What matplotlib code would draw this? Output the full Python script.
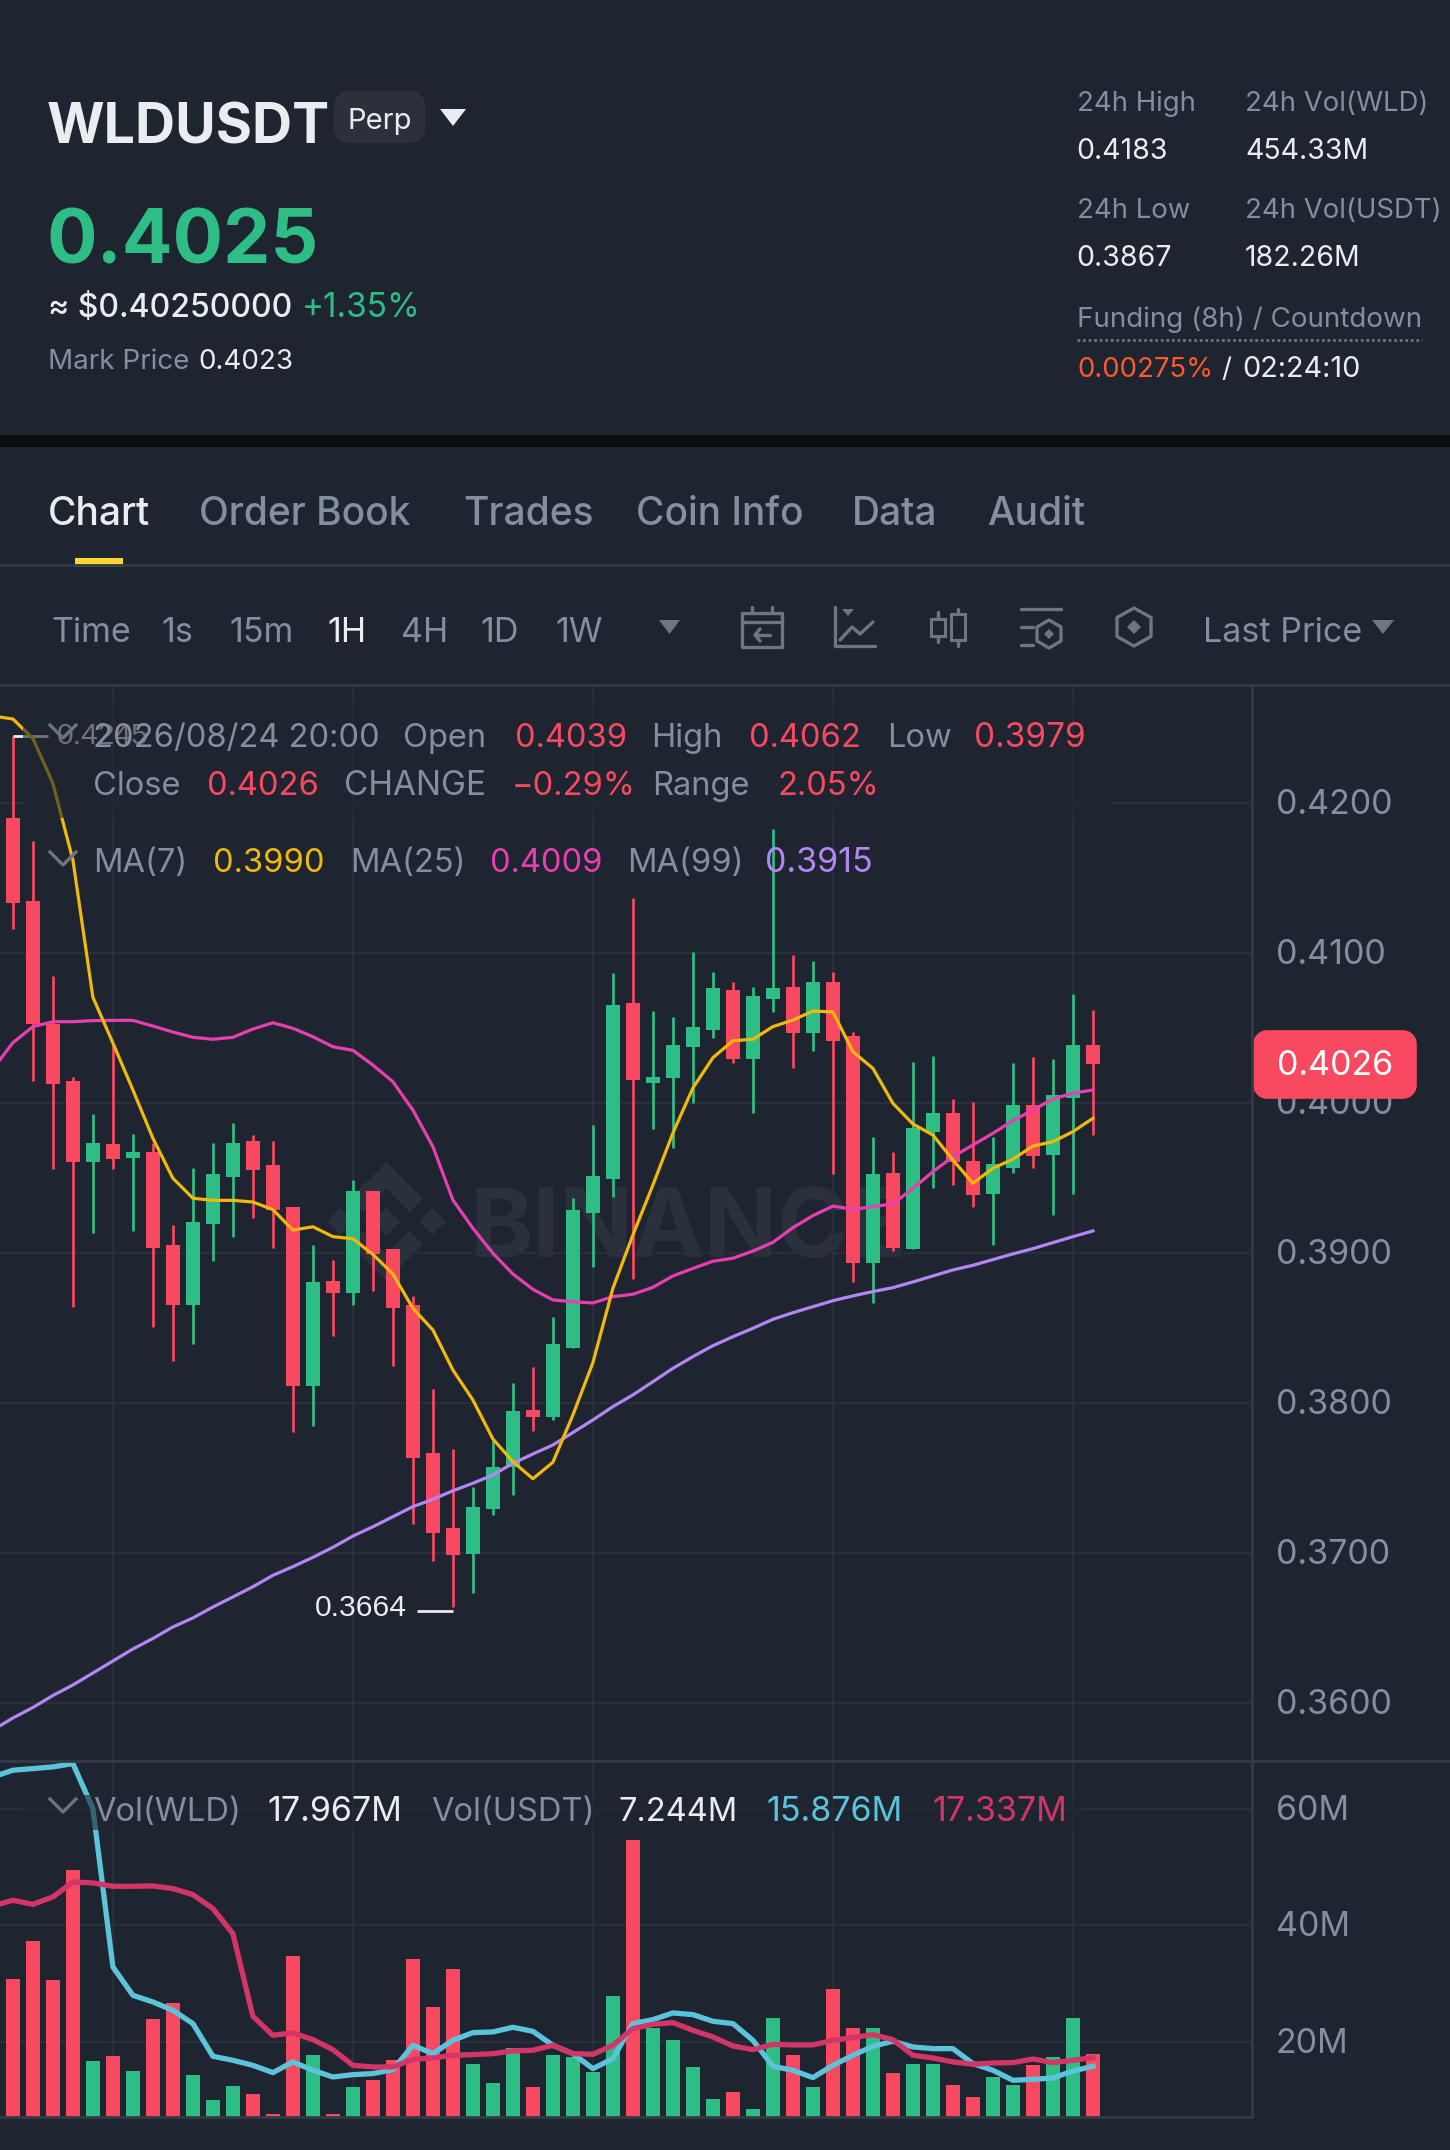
"""Fig: WLDUSDT perp 1H candles with MA lines and volume pane (phone screenshot look)."""

import matplotlib

matplotlib.use("Agg")
import matplotlib.pyplot as plt
import numpy as np
from matplotlib.patches import FancyBboxPatch, Polygon, Rectangle
from matplotlib.transforms import ScaledTranslation

plt.rcParams["font.family"] = ["Inter", "DejaVu Sans"]

# candles, index 0 is the left most one
opens = [.4190, .41345, .40529, .40144, .39607, .39727, .39635, .39675, .39053, .38655,
         .39195, .39507, .39747, .39587, .39305, .38115, .38813, .38733, .39413, .39025,
         .38653, .37665, .37165, .36993, .37293, .37573, .37953, .37905, .38365, .39267,
         .39495, .40665, .40135, .40167, .40375, .40487, .40753, .40295, .40695, .40773,
         .40465, .40805, .40445, .38935, .39533, .39027, .39805, .39933, .39613, .39393,
         .39565, .39985, .39653, .40035, .4039]
highs = [.4245, .41747, .40847, .40175, .39927, .40387, .39793, .39733, .39187, .39567,
         .39735, .39867, .39787, .39747, .39305, .39053, .38953, .39487, .39413, .39025,
         .38713, .38093, .37693, .37442, .37753, .38133, .38242, .38572, .39365, .39853,
         .40865, .41365, .40613, .40573, .41005, .40875, .40805, .40773, .41825, .40985,
         .40945, .40873, .40475, .39773, .39673, .40273, .40313, .40025, .40005, .39773,
         .40265, .40305, .40293, .40725, .4062]
lows = [.4116, .40149, .3956, .3864, .39135, .39558, .39147, .38507, .38282, .38395,
        .38947, .39107, .39235, .39035, .37807, .37847, .38447, .38655, .38745, .38245,
        .37195, .36945, .3664, .36733, .37253, .37385, .37815, .37887, .38365, .38905,
        .39375, .38825, .39829, .39698, .39998, .40435, .40267, .39935, .40609, .40235,
        .40347, .39529, .38805, .38665, .39015, .39027, .39435, .39455, .39305, .39055,
        .39535, .39567, .39253, .39393, .3979]
closes = [.4133, .40529, .40127, .39607, .39735, .39627, .39673, .39035, .38655, .39205,
          .39525, .39735, .39555, .39287, .38115, .38805, .38733, .39413, .38995, .38635,
          .37635, .37135, .36985, .37305, .37573, .37945, .37905, .38393, .39285, .39513,
          .40653, .40155, .40173, .40385, .40505, .40765, .40295, .40713, .40765, .40465,
          .40805, .40415, .38935, .39525, .39035, .39833, .39933, .39605, .39385, .39593,
          .39985, .39645, .40053, .40385, .4026]

# moving averages start one candle further left, off the screen
ma7 = [.4258, .4256, .42431, .42131, .4162, .40705, .404, .40087, .39765, .39498, .39365,
       .39351, .39351, .3934, .39289, .39153, .39175, .39109, .39095, .38991, .3886,
       .38631, .38487, .3822, .3802, .3776, .37609, .37495, .37605, .3792, .38269,
       .38765, .3912, .39453, .398, .401, .40302, .40415, .40425, .40509, .40553,
       .40613, .40607, .40342, .40231, .39998, .3986, .39787, .3962, .39465, .39565,
       .39625, .39713, .39742, .39809, .39898]
ma25 = [.40227, .40402, .40509, .40542, .40542, .40549, .40551, .40551, .40513, .40473, .40438,
        .40425, .40438, .40493, .40535, .40498, .40442, .40375, .40351, .40253, .40142,
        .39953, .39709, .39353, .39165, .38998, .3886, .38758, .38687, .38675, .38667,
        .38709, .38725, .38771, .38847, .38897, .38945, .38965, .39013, .39071, .39169,
        .39249, .39313, .39291, .39309, .39327, .39431, .39542, .39642, .3972, .39798,
        .39882, .39953, .40027, .40065, .40087]
ma99 = [.3582, .3590, .3597, .3605, .3612, .3620, .3628, .3636, .3643, .36507, .36567,
        .3664, .36707, .36775, .36851, .36909, .36971, .37038, .37113, .37175, .37242,
        .37309, .37358, .37415, .37465, .3752, .37598, .3766, .3772, .37803, .37887,
        .37976, .38054, .38142, .38231, .38309, .38382, .38442, .38498, .38558, .38602,
        .38642, .38682, .38714, .38743, .38769, .38807, .38847, .38887, .38918, .38956,
        .38994, .39029, .39069, .39109, .39147]

# volume pane, millions of WLD
volumes = [30.81, 37.27, 30.70, 49.44, 16.81, 17.67, 14.98, 23.95, 26.76, 14.30,
           10.01, 12.47, 11.04, 7.73, 34.75, 17.78, 7.73, 12.24, 13.56, 16.99,
           34.24, 26.07, 32.59, 16.24, 12.98, 18.93, 12.24, 17.73, 17.44, 14.87,
           27.84, 54.64, 22.36, 20.30, 15.79, 10.30, 11.50, 8.52, 24.12, 17.73,
           12.36, 29.04, 22.36, 22.41, 14.76, 16.24, 16.24, 12.58, 10.53, 14.07,
           12.58, 16.07, 17.50, 24.19, 17.97]
vol_ma_fast = [65.44, 66.59, 66.87, 67.16, 67.73, 60.01, 32.87, 28.01, 26.87, 25.44, 23.16,
               17.56, 16.87, 16.01, 14.76, 16.59, 15.16, 14.01, 14.41, 14.59, 15.27,
               19.44, 18.01, 20.30, 21.61, 21.73, 22.53, 21.84, 19.44, 18.01, 15.44,
               17.16, 23.16, 23.84, 24.99, 24.70, 23.56, 23.16, 20.30, 15.84, 15.16,
               13.90, 16.01, 17.73, 19.27, 20.13, 19.16, 18.87, 18.87, 16.30, 15.16,
               13.44, 13.61, 13.84, 15.04, 15.84]
vol_ma_slow = [43.33, 44.30, 43.61, 44.87, 47.44, 47.27, 46.70, 46.70, 46.76, 46.30, 45.27,
               42.87, 38.59, 24.41, 21.16, 21.56, 20.41, 18.70, 16.01, 15.73, 15.73,
               17.04, 17.27, 17.73, 17.84, 18.01, 18.47, 18.59, 19.44, 18.01, 17.90,
               19.44, 22.30, 23.04, 23.33, 22.01, 20.87, 19.33, 18.70, 19.61, 19.50,
               19.50, 20.30, 20.76, 21.27, 20.41, 17.73, 17.27, 16.59, 16.19, 16.41,
               16.47, 17.10, 16.47, 16.87, 17.33]

price_ticks = [0.36, 0.37, 0.38, 0.39, 0.40, 0.41, 0.42]
vol_ticks = [20, 40, 60]
vol_tick_labels = ["20M", "40M", "60M"]
grid_candles = [5, 17, 29, 41, 53]

BG = "#1f2530"
GRID = "#292f3a"
LINE = "#333b47"
GREY = "#848e9c"
WHITE = "#eaecef"
GREEN = "#2ebd85"
RED = "#f84960"
YELLOW = "#f0b90b"
PINK = "#e83fb0"
PURPLE = "#b385f5"
BLUE = "#5bc3da"
CRIMSON = "#d33567"
ICON = "#6f7682"

W, H = 1450, 2150


def px_axes(fig, left, top, right, bottom, z):
    """Axes placed by screen pixels, y counted from the top."""
    return fig.add_axes([left / W, 1 - bottom / H, (right - left) / W, (bottom - top) / H], zorder=z)


def label(ax, x, y, s, size=23.5, color=GREY, **kw):
    ax.text(x, y, s, fontsize=size, color=color, ha=kw.pop("ha", "left"), va="baseline", **kw)


def stroke(ax, xs, ys, color=ICON, lw=2.4, **kw):
    ax.plot(xs, ys, color=color, lw=lw, solid_capstyle="round", solid_joinstyle="round", **kw)


def hexagon(ui, cx, cy, rx, ry):
    ui.add_patch(Polygon([(cx, cy - ry), (cx + rx, cy - ry / 2), (cx + rx, cy + ry / 2),
                          (cx, cy + ry), (cx - rx, cy + ry / 2), (cx - rx, cy - ry / 2)],
                         fill=False, ec=ICON, lw=2.4, joinstyle="round"))


def diamond(ui, cx, cy, r):
    ui.add_patch(Polygon([(cx, cy - r), (cx + r, cy), (cx, cy + r), (cx - r, cy)], color=ICON, lw=0))


def draw_icons(ui):
    # calendar
    ui.add_patch(Rectangle((742, 613), 40, 34, fill=False, ec=ICON, lw=2.4, joinstyle="round"))
    stroke(ui, [742, 782], [622, 622])
    stroke(ui, [752, 752], [607, 613])
    stroke(ui, [772, 772], [607, 613])
    stroke(ui, [770, 755], [635, 635])
    stroke(ui, [760, 755, 760], [629, 635, 641])
    # indicator chart
    stroke(ui, [835, 835, 875], [607, 646, 646])
    ui.add_patch(Polygon([(842, 609), (854, 609), (848, 616)], color=ICON, lw=0))
    stroke(ui, [840, 852, 860, 873], [640, 627, 634, 622])
    # candle type
    stroke(ui, [938, 938], [612, 642])
    ui.add_patch(Rectangle((931, 619), 14.5, 17, fc=BG, ec=ICON, lw=2.2, zorder=3))
    stroke(ui, [958, 958], [609, 646])
    ui.add_patch(Rectangle((951, 614), 14.5, 26, fc=BG, ec=ICON, lw=2.2, zorder=3))
    # settings lines with hexagon
    stroke(ui, [1021, 1061], [609, 609])
    stroke(ui, [1021, 1033], [627, 627])
    stroke(ui, [1021, 1033], [645, 645])
    hexagon(ui, 1049, 634, 12, 14)
    diamond(ui, 1049, 634, 5)
    # hexagon coin
    hexagon(ui, 1134, 627, 17, 19)
    diamond(ui, 1134, 627, 7)


def draw_watermark(ui):
    shapes = [
        [(38.73, 53.2), (63.32, 28.62), (87.92, 53.22), (102.22, 38.91), (63.32, 0), (24.43, 38.89)],
        [(0, 63.31), (14.3, 49), (28.61, 63.31), (14.3, 77.61)],
        [(38.73, 73.41), (63.32, 98), (87.92, 73.4), (102.23, 87.69), (63.33, 126.6), (24.42, 87.72)],
        [(98, 63.31), (112.3, 49), (126.61, 63.3), (112.3, 77.62)],
        [(77.83, 63.3), (63.32, 48.78), (48.81, 63.28), (63.32, 77.78)],
    ]
    color = "#2b313c"
    s = 119 / 126.61
    for pts in shapes:
        ui.add_patch(Polygon([(327 + x * s, 1162 + y * s) for x, y in pts], color=color, lw=0))
    label(ui, 470, 1257, "BINANCE", size=69, color=color, fontweight="bold")


def chevron(ax, y):
    ax.plot([50, 63, 76], [y, y + 13, y], color="#6c7480", lw=2.4)


def style_pane(ax, fig, ticks, tick_labels):
    ax.set_yticks(ticks)
    ax.set_yticklabels(tick_labels, fontsize=24.5, color=GREY)
    ax.yaxis.tick_right()
    ax.set_xticks(grid_candles)
    ax.set_xticklabels([])
    ax.tick_params(length=0)
    ax.tick_params(axis="y", pad=17)
    ax.grid(True, color=GRID, lw=1.6, zorder=0)
    ax.set_axisbelow(True)
    for s in ax.spines.values():
        s.set_visible(False)
    # labels sit a little above their grid line
    nudge = ScaledTranslation(0, 1.2 / 72, fig.dpi_scale_trans)
    for t in ax.get_yticklabels():
        t.set_transform(t.get_transform() + nudge)


def main():
    fig = plt.figure(figsize=(W / 100, H / 100), dpi=100, facecolor=BG)

    ui = px_axes(fig, 0, 0, W, H, 0)
    ui.set_xlim(0, W)
    ui.set_ylim(H, 0)
    ui.axis("off")

    # header block
    ui.add_patch(Rectangle((0, 435), W, 12, color="#0b0e11", lw=0))
    label(ui, 47, 143, "WLDUSDT", size=40, color=WHITE, fontweight="bold")
    ui.add_patch(FancyBboxPatch((342, 99), 75, 36, boxstyle="round,pad=0,rounding_size=8",
                                mutation_aspect=1, fc="#2b303b", ec="#2b303b", lw=12, joinstyle="round"))
    label(ui, 348, 129, "Perp", size=21, color=WHITE)
    ui.add_patch(Polygon([(440, 109), (466, 109), (453, 126)], color=WHITE, lw=0))
    label(ui, 47, 264, "0.4025", size=54, color=GREEN, fontweight="bold")
    label(ui, 48, 317, "≈ $0.40250000", size=23, color=WHITE, fontweight="medium")
    label(ui, 302, 317, "+1.35%", size=24, color=GREEN)
    label(ui, 48, 369, "Mark Price", size=20)
    label(ui, 198, 369, "0.4023", size=20, color=WHITE)

    label(ui, 1077, 111, "24h High", size=19.8)
    label(ui, 1245, 111, "24h Vol(WLD)", size=19.8)
    label(ui, 1076, 159, "0.4183", size=20.5, color=WHITE)
    label(ui, 1245, 159, "454.33M", size=20.5, color=WHITE)
    label(ui, 1077, 218, "24h Low", size=19.8)
    label(ui, 1245, 218, "24h Vol(USDT)", size=19.8)
    label(ui, 1076, 266, "0.3867", size=20.5, color=WHITE)
    label(ui, 1245, 266, "182.26M", size=20.5, color=WHITE)
    label(ui, 1077, 327, "Funding (8h) / Countdown", size=20)
    ui.plot([1077, 1422], [340, 340], color="#6c7480", lw=2, ls=(0, (1, 1)))
    label(ui, 1077, 377, "0.00275%", size=19.8, color="#ff5a2b")
    label(ui, 1221, 377, "/", size=20, color=WHITE)
    label(ui, 1242, 377, "02:24:10", size=20.8, color=WHITE)

    # tabs
    label(ui, 48, 525, "Chart", size=28, color=WHITE, fontweight="medium")
    for x, s in [(199, "Order Book"), (463, "Trades"), (636, "Coin Info"), (852, "Data"), (987, "Audit")]:
        label(ui, x, 525, s, size=28, fontweight="medium")
    ui.plot([0, W], [565, 565], color=LINE, lw=2)
    ui.add_patch(Rectangle((75, 558), 48, 9, color="#fcd535", lw=0))

    # toolbar
    for x, s in [(51, "Time"), (161, "1s"), (229, "15m"), (401, "4H"), (480, "1D"), (555, "1W"), (1203, "Last Price")]:
        label(ui, x, 642, s, size=24.5)
    label(ui, 327, 642, "1H", size=24.5, color=WHITE)
    ui.add_patch(Polygon([(659, 620), (680, 620), (669.5, 634)], color=ICON, lw=0))
    ui.add_patch(Polygon([(1372, 620), (1394, 620), (1383, 634)], color=ICON, lw=0))
    draw_icons(ui)
    ui.plot([0, W], [685, 685], color=LINE, lw=2)

    draw_watermark(ui)

    # price pane: 150 px per 0.01, 0.40 sits at y=1103
    ax = px_axes(fig, 0, 687, 1252, 1760, 1)
    ax.set_facecolor("none")
    ax.set_xlim(-0.645, 61.955)
    ax.set_ylim(0.40 - (1760 - 1103) / 15000, 0.40 + (1103 - 687) / 15000)
    x = np.arange(len(opens))
    ma_x = np.arange(-1, len(opens))
    colors = [GREEN if c >= o else RED for o, c in zip(opens, closes)]
    ax.vlines(x, lows, highs, colors=colors, lw=1.95, zorder=3)
    ax.bar(x, np.array(closes) - np.array(opens), bottom=opens, width=0.68, color=colors, zorder=3)
    ax.plot(ma_x, ma99, color=PURPLE, lw=2.3, zorder=4)
    ax.plot(ma_x, ma25, color=PINK, lw=2.3, zorder=5)
    ax.plot(ma_x, ma7, color=YELLOW, lw=2.3, zorder=6)

    ax.hlines(highs[0], 0, 1.75, color=WHITE, lw=2, zorder=4)
    ax.annotate("0.4245", xy=(0, highs[0]), xytext=(44, -9), textcoords="offset pixels", fontsize=21.6,
                color=WHITE, family="Liberation Sans", va="baseline", zorder=4)
    ax.hlines(lows[22] - 0.00025, 22 - 1.8, 22, color=WHITE, lw=2, zorder=4)
    ax.annotate("0.3664", xy=(22, lows[22]), xytext=(-46, -9), textcoords="offset pixels", fontsize=21.6,
                color=WHITE, family="Liberation Sans", ha="right", va="baseline", zorder=4)
    style_pane(ax, fig, price_ticks, [f"{t:.4f}" for t in price_ticks])

    # volume pane
    vx = px_axes(fig, 0, 1762, 1252, 2117, 1)
    vx.set_facecolor("none")
    vx.set_xlim(ax.get_xlim())
    vx.set_ylim(7.15, 68.0)
    vx.bar(x, volumes, width=0.68, color=colors, zorder=3)
    vx.plot(ma_x, vol_ma_fast, color=BLUE, lw=3.8, zorder=4)
    vx.plot(ma_x, vol_ma_slow, color=CRIMSON, lw=3.8, zorder=5)
    style_pane(vx, fig, vol_ticks, vol_tick_labels)

    # pane frame, legends and price tag go on top
    top = px_axes(fig, 0, 0, W, H, 2)
    top.set_xlim(0, W)
    top.set_ylim(H, 0)
    top.axis("off")
    top.plot([1252, 1252], [687, 2117], color=LINE, lw=2)
    top.plot([0, W], [1761, 1761], color=LINE, lw=2)
    top.plot([0, 1252], [2117, 2117], color=LINE, lw=2)

    top.add_patch(Rectangle((23, 700), 1090, 118, fc=BG, alpha=0.6, lw=0))
    top.add_patch(Rectangle((23, 1795), 1060, 35, fc=BG, alpha=0.6, lw=0))
    chevron(top, 725)
    chevron(top, 852)
    chevron(top, 1799)

    label(top, 93, 747, "2026/08/24 20:00")
    label(top, 403, 747, "Open")
    label(top, 515, 747, "0.4039", color=RED)
    label(top, 651, 747, "High")
    label(top, 749, 747, "0.4062", color=RED)
    label(top, 887, 747, "Low")
    label(top, 974, 747, "0.3979", color=RED, size=24)
    label(top, 93, 795, "Close")
    label(top, 207, 795, "0.4026", color=RED)
    label(top, 344, 795, "CHANGE", size=24)
    label(top, 512, 795, "−0.29%", color=RED)
    label(top, 652, 795, "Range")
    label(top, 778, 795, "2.05%", color=RED)
    label(top, 93, 872, "MA(7)")
    label(top, 213, 872, "0.3990", color=YELLOW)
    label(top, 350, 872, "MA(25)")
    label(top, 490, 872, "0.4009", color=PINK)
    label(top, 627, 872, "MA(99)")
    label(top, 765, 872, "0.3915", color=PURPLE, size=24.5)

    label(top, 93, 1821, "Vol(WLD)")
    label(top, 267, 1821, "17.967M", color=WHITE, size=24.5)
    label(top, 431, 1821, "Vol(USDT)")
    label(top, 619, 1821, "7.244M", color=WHITE)
    label(top, 766, 1821, "15.876M", color=BLUE, size=24.5)
    label(top, 932, 1821, "17.337M", color=CRIMSON, size=24.5)

    top.add_patch(FancyBboxPatch((1265, 1042), 140, 45, boxstyle="round,pad=0,rounding_size=2",
                                 fc=RED, ec=RED, lw=17, joinstyle="round"))
    top.text(1335, 1066, "0.4026", fontsize=24.5, color="white", ha="center", va="center")

    fig.savefig("out.png", dpi=100, facecolor=BG)
    plt.close(fig)


if __name__ == "__main__":
    main()
